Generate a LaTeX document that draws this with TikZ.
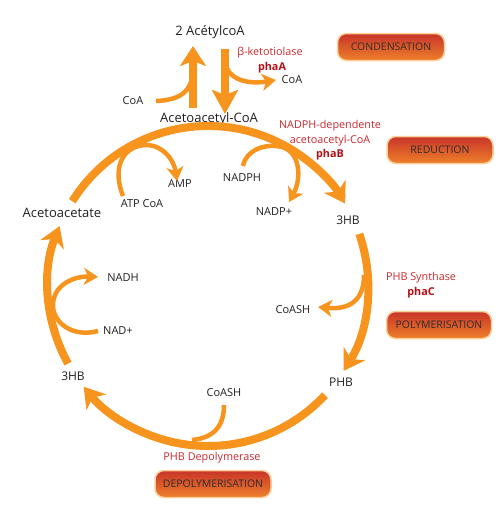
\documentclass[tikz,border=0pt]{standalone}
\usepackage{fontspec}
\setmainfont{Open Sans}
\usetikzlibrary{arrows.meta,calc}
\definecolor{org}{RGB}{247,148,30}
\definecolor{rtxt}{RGB}{200,40,45}
\definecolor{gtxt}{RGB}{180,15,20}
\definecolor{txt}{RGB}{35,31,32}
\definecolor{btxt}{RGB}{50,45,45}
\definecolor{boxtop}{RGB}{200,52,42}
\definecolor{boxbot}{RGB}{238,128,42}
\tikzset{
  ringarrow/.style={draw=org, line width=8pt, -{Stealth[length=20pt,width=25pt,inset=6pt]}},
  shaftarrow/.style={draw=org, line width=7.5pt, -{Stealth[length=20pt,width=26pt,inset=5pt]}},
  brancharrow/.style={draw=org, line width=4.5pt, -{Stealth[length=14pt,width=17pt,inset=4pt]}},
  branchline/.style={draw=org, line width=4.5pt},
  lbl/.style={text=txt, font=\fontsize{11}{13}\selectfont, inner sep=0pt},
  mid/.style={text=txt, font=\fontsize{12}{14}\selectfont, inner sep=0pt},
  big/.style={text=txt, font=\fontsize{13}{15}\selectfont, inner sep=0pt},
  enz/.style={text=rtxt, font=\fontsize{10.8}{13}\selectfont, inner sep=0pt},
  gene/.style={text=gtxt, font=\bfseries\fontsize{10.8}{13}\selectfont, inner sep=0pt},
  stage/.style={rounded corners=9pt, top color=boxtop, bottom color=boxbot,
     draw=org!45, line width=1.5pt, minimum height=27pt, inner sep=0pt,
     text=btxt, font=\fontsize{10.5}{12}\selectfont},
}
\begin{document}
\begin{tikzpicture}[x=1pt,y=1pt]
\useasboundingbox (0,0) rectangle (498,-512);
% ring geometry
\coordinate (O) at (208,-286);
\coordinate (a1) at ($(O)+(148:160)$);
\coordinate (a2) at ($(O)+(19:160)$);
\coordinate (a3) at ($(O)+(-43:160)$);
\coordinate (a4) at ($(O)+(209:160)$);

% labels
\node[big] (acetyl) at (210,-32) {2 AcétylcoA};
\node[enz] (ketot) at (270,-53) {β-ketotiolase};
\node[gene] (phaA) at (272,-68) {phaA};
\node[lbl] (coaR) at (292,-80) {CoA};
\node[lbl] (coaL) at (133,-101) {CoA};
\node[big] (aacoa) at (209,-119) {Acetoacetyl-CoA};
\node[enz] (dep1) at (330,-126) {NADPH-dependente};
\node[enz] (dep2) at (330,-141) {acetoacetyl-CoA};
\node[gene] (phaB) at (330,-155) {phaB};
\node[lbl] (nadph) at (242,-178) {NADPH};
\node[lbl] (nadpp) at (274,-212) {NADP+};
\node[lbl] (amp) at (180,-184) {AMP};
\node[lbl] (atp) at (142,-204) {ATP CoA};
\node[big] (aacet) at (62,-213) {Acetoacetate};
\node[mid] (hbR) at (348,-220) {3HB};
\node[enz] (synth) at (421,-278) {PHB Synthase};
\node[gene] (phaC) at (421,-293) {phaC};
\node[lbl] (coashR) at (293,-310) {CoASH};
\node[lbl] (nadh) at (123,-278) {NADH};
\node[lbl] (nadp) at (118,-331) {NAD+};
\node[mid] (hbL) at (73,-376) {3HB};
\node[mid] (phb) at (341,-382) {PHB};
\node[lbl] (coashB) at (224,-393) {CoASH};
\node[enz] (depol) at (212,-458) {PHB Depolymerase};

% stage boxes
\node[stage, minimum width=107pt] (cond) at (391,-47) {CONDENSATION};
\node[stage, minimum width=106pt] (reduc) at (440,-150) {REDUCTION};
\node[stage, minimum width=105pt] (poly) at (439,-325) {POLYMERISATION};
\node[stage, minimum width=116pt] (depolb) at (213,-484) {DEPOLYMERISATION};

% top condensation arrows
\coordinate (upS) at (193,-108);
\coordinate (upT) at (193,-46);
\coordinate (dnS) at (225,-49);
\coordinate (dnT) at (225,-114);
\coordinate (coaLs) at (156,-101);
\coordinate (coaLj) at (193,-70);
\coordinate (coaRj) at (225,-62);
\coordinate (coaRt) at (276,-80);
\draw[shaftarrow] (upS) -- (upT);
\draw[shaftarrow, -{Stealth[length=24pt,width=26pt,inset=5pt]}] (dnS) -- (dnT);
\draw[branchline] (coaLs) .. controls (180,-100) and (192,-92) .. (coaLj);
\draw[brancharrow] (coaRj) .. controls (227,-78) and (245,-85) .. (coaRt);

% ring
\draw[ringarrow] (a1) arc[start angle=148, end angle=31, radius=160];
\draw[ringarrow] (a2) arc[start angle=19, end angle=-32, radius=160];
\draw[ringarrow] (a3) arc[start angle=-43, end angle=-141, radius=160];
\draw[ringarrow] (a4) arc[start angle=209, end angle=158, radius=160];

% side branches
\coordinate (atpS) at (123,-196);
\coordinate (ampT) at (177,-181);
\draw[brancharrow] (atpS) .. controls (112,-168) and (122,-146) .. (146,-145)
   .. controls (163,-145) and (174,-160) .. (ampT);
\coordinate (nadphS) at (243,-166);
\coordinate (nadppT) at (289,-202);
\draw[brancharrow] (nadphS) .. controls (246,-150) and (265,-143) .. (282,-147)
   .. controls (300,-152) and (302,-178) .. (nadppT);
\coordinate (coashRs) at (364,-275);
\coordinate (coashRt) at (318,-307);
\draw[brancharrow] (coashRs) .. controls (364,-300) and (350,-310) .. (coashRt);
\coordinate (nadS) at (98,-331);
\coordinate (nadhT) at (98,-277);
\draw[brancharrow] (nadS) .. controls (72,-338) and (52,-322) .. (53,-304)
   .. controls (54,-284) and (75,-276) .. (nadhT);
\coordinate (coashBs) at (224,-405);
\coordinate (coashBj) at (192,-440);
\draw[branchline] (coashBs) .. controls (224,-428) and (212,-438) .. (coashBj);
\end{tikzpicture}
\end{document}
